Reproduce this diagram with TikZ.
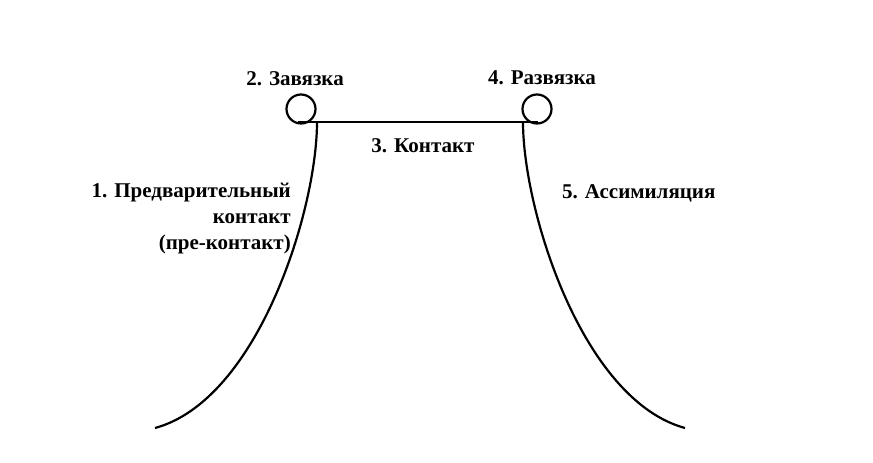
\documentclass[tikz,border=0pt]{standalone}
\usepackage{fontspec}
\setmainfont{Liberation Serif}
\begin{document}
\begin{tikzpicture}[x=1pt,y=-1pt,
  lbl/.style={font=\bfseries\fontsize{21}{26}\selectfont, inner sep=0pt},
  ln/.style={line width=2.2pt, black}]
\useasboundingbox (0,0) rectangle (873,463);
\coordinate (lt) at (317,122);
\coordinate (lb) at (155,428);
\coordinate (rt) at (523,122);
\coordinate (rb) at (685,428);
\node[ln, draw, circle, minimum size=29pt, inner sep=0pt] (c1) at (301,109) {};
\node[ln, draw, circle, minimum size=29pt, inner sep=0pt] (c2) at (537,109) {};
\coordinate (hl) at (298,122);
\coordinate (hr) at (538,122);
\draw[ln] (hl) -- (hr);
\draw[ln] (lt) .. controls (317,210) and (258,400) .. (lb);
\draw[ln] (rt) .. controls (523,210) and (582,400) .. (rb);
\node[lbl, anchor=base] (t2) at (295,85) {2. Завязка};
\node[lbl, anchor=base] (t4) at (542,84) {4. Развязка};
\node[lbl, anchor=base] (t3) at (423,152) {3. Контакт};
\node[lbl, anchor=base east, align=right] (t1) at (291,249) {1. Предварительный\\контакт\\(пре-контакт)};
\node[lbl, anchor=base west] (t5) at (562,198) {5. Ассимиляция};
\end{tikzpicture}
\end{document}
